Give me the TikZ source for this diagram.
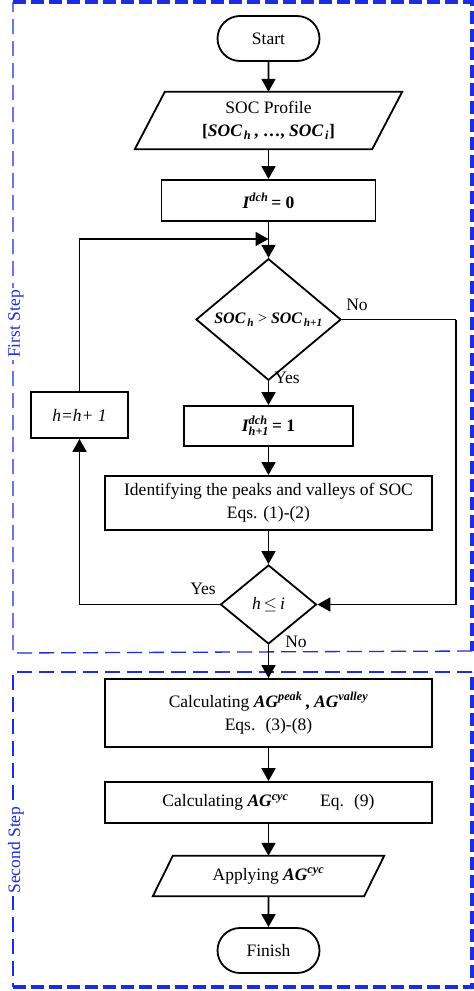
\documentclass[tikz,border=0pt]{standalone}
\usepackage{amsmath}
\usepackage{fontspec}
\setmainfont{Liberation Serif}
\usetikzlibrary{arrows.meta,shapes.geometric,shapes.misc,calc}
\newcommand{\bvx}[1]{\text{\bfseries\itshape #1}}
\definecolor{stepblue}{RGB}{25,45,225}
\begin{document}
\begin{tikzpicture}[x=1pt,y=-1pt,
  every node/.style={font=\fontsize{17.5}{23}\selectfont, inner sep=0pt},
  box/.style={rectangle, draw, line width=1.8pt, align=center},
  term/.style={rounded rectangle, draw, line width=1.8pt, minimum width=102pt, minimum height=45pt},
  io/.style={rectangle, draw=none, align=center},
  dia/.style={diamond, draw, line width=1.8pt},
  shapeline/.style={line width=1.8pt, line join=miter},
  arr/.style={line width=1.8pt, -{Triangle[length=13pt,width=14pt]}},
  ln/.style={line width=1.8pt},
  lab/.style={font=\fontsize{17.5}{21}\selectfont},
  frame/.style={draw=stepblue, line width=1.3pt, dash pattern=on 15pt off 7pt},
  framethick/.style={draw=stepblue, line width=3.2pt, dash pattern=on 13pt off 5pt},
  steplab/.style={text=stepblue, rotate=90, fill=white, inner sep=2pt, font=\fontsize{17.5}{21}\selectfont}]
\useasboundingbox (0,0) rectangle (474,991);
\fill[white] (0,0) rectangle (474,991);

% frames
\draw[frame] (472,651) -- (13,653) -- (13,2);
\draw[framethick] (13,2) -- (472,2) -- (472,651);
\draw[frame] (472,672) -- (13,672) -- (13,987);
\draw[framethick] (13,987) -- (472,987) -- (472,672);
\node[steplab] (s1) at (16,324) {First Step};
\node[steplab] (s2) at (16,850) {Second Step};

% nodes
\node[term] (start) at (268.5,38.5) {Start};
\node[io, minimum width=237pt, minimum height=57pt] (prof) at (268.5,120.5)
  {SOC Profile\\ \textbf{[}$\bvx{SOC}_{\,\bvx{h}}$\,\textbf{, …,} $\bvx{SOC}_{\,\bvx{i}}$\textbf{]}};
\draw[shapeline] ($(prof.north west)+(15,0)$) -- ($(prof.north east)+(15,0)$)
  -- ($(prof.south east)+(-15,0)$) -- ($(prof.south west)+(-15,0)$) -- cycle;
\node[box, minimum width=214pt, minimum height=41pt] (i0) at (268.5,200.5)
  {$\bvx{I}^{\bvx{dch}}$\,\textbf{= 0}};
\node[dia, minimum width=145pt, minimum height=105pt, font=\fontsize{16}{20}\selectfont] (d1) at (268.5,319.5)
  {$\bvx{SOC}_{\,\bvx{h}}$ > $\bvx{SOC}_{\,\bvx{h+1}}$};
\node[box, minimum width=169pt, minimum height=40pt] (i1) at (268.5,426)
  {$\bvx{I}^{\bvx{dch}}_{\bvx{h+1}}$\,\textbf{= 1}};
\node[box, minimum width=327pt, minimum height=54pt] (ident) at (268.5,503)
  {Identifying the peaks and valleys of SOC\\Eqs. (1)-(2)};
\node[dia, minimum width=96pt, minimum height=79pt] (d2) at (268.5,604.5)
  {\textit{h}\,$\leq$\,\textit{i}};
\node[box, minimum width=97pt, minimum height=46pt] (hb) at (79.5,415)
  {\textit{h=h+ 1}};
\node[box, minimum width=327pt, minimum height=68pt] (ag) at (268.5,713)
  {Calculating $\bvx{AG}^{\bvx{peak}}$\,\textbf{,} $\bvx{AG}^{\bvx{valley}}$\\Eqs.~ (3)-(8)};
\node[box, minimum width=327pt, minimum height=41pt] (cyc) at (268.5,802.5)
  {Calculating $\bvx{AG}^{\bvx{cyc}}$\hspace{1.8em}Eq.~ (9)};
\node[io, minimum width=211pt, minimum height=40pt] (app) at (268.5,876)
  {Applying $\bvx{AG}^{\bvx{cyc}}$};
\draw[shapeline] ($(app.north west)+(10,0)$) -- ($(app.north east)+(10,0)$)
  -- ($(app.south east)+(-10,0)$) -- ($(app.south west)+(-10,0)$) -- cycle;
\node[term] (fin) at (268.5,950.5) {Finish};

% helper coordinates
\coordinate (j1) at (268.5,239);
\coordinate (nr) at (456,319.5);

% connectors
\draw[arr] (start) -- (prof);
\draw[arr] (prof) -- (i0);
\draw[arr] (i0) -- (d1);
\draw[arr] (d1) -- (i1);
\draw[arr] (i1) -- (ident);
\draw[arr] (ident) -- (d2);
\draw[arr] (d2) -- (ag);
\draw[arr] (ag) -- (cyc);
\draw[arr] (cyc) -- (app);
\draw[arr] (app) -- (fin);
\draw[arr] (d2.west) -| (hb.south);
\draw[arr] (hb.north) |- (j1);
\draw[ln] (d1.east) -- (nr);
\draw[arr] (nr) |- (d2.east);

% labels
\node[lab] (no1) at (357,305) {No};
\node[lab] (yes1) at (287,378) {Yes};
\node[lab] (yes2) at (203,589) {Yes};
\node[lab] (no2) at (296,642) {No};
\end{tikzpicture}
\end{document}
